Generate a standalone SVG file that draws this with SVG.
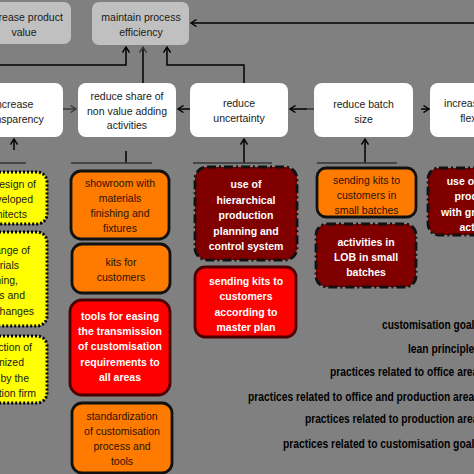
<svg xmlns="http://www.w3.org/2000/svg" width="474" height="474" viewBox="0 0 474 474">
<defs>
<marker id="ah" markerWidth="8" markerHeight="8" refX="6" refY="4" orient="auto" markerUnits="userSpaceOnUse">
<path d="M0.5,0.5 L6,4 L0.5,7.5" fill="none" stroke="#000" stroke-width="1.4"/>
</marker>
<marker id="ahg" markerWidth="8" markerHeight="8" refX="6" refY="4" orient="auto" markerUnits="userSpaceOnUse">
<path d="M0.5,0.5 L6,4 L0.5,7.5" fill="none" stroke="#3a3a3a" stroke-width="1.4"/>
</marker>
<style>
text{font-family:"Liberation Sans",Arial,sans-serif;font-size:10.5px;text-anchor:middle}
.goal rect{fill:#c0c0c0}
.lean rect{fill:#fff}
.gt{fill:#1a1a1a}
.off rect{fill:#ffff00;stroke:#000;stroke-width:3;stroke-dasharray:2 2}
.off text{fill:#1a1a1a;text-anchor:end}
.prod rect{fill:#ff7b00;stroke:#111;stroke-width:2.8}
.prod text{fill:#2a1200}
.cust rect{fill:#f00;stroke:#4a0000;stroke-width:2.8}
.both rect{fill:#800000;stroke:#111;stroke-width:2.8;stroke-dasharray:9 3 2 3}
.cust text,.both text{fill:#fff;font-weight:bold}
.c{fill:none;stroke:#000;stroke-width:1.5}
.cg{fill:none;stroke:#3a3a3a;stroke-width:1.5}
.br{fill:none;stroke:#333;stroke-width:1.6}
.leg text{font-weight:bold;font-size:12px;text-anchor:start;fill:#000}
</style>
</defs>
<rect width="474" height="474" fill="#808080"/>

<g id="connectors">
<path class="c" d="M474,23 H191" marker-end="url(#ah)"/>
<path class="c" d="M0,65 H126 V47" marker-end="url(#ah)"/>
<path class="c" d="M143,83 V47" marker-end="url(#ahg)"/>
<path class="c" d="M244,83 V65 H167 V47" marker-end="url(#ah)"/>
<path class="cg" d="M63,109 H76" marker-end="url(#ahg)"/>
<path class="c" d="M190,109 H178" marker-end="url(#ah)"/>
<path class="cg" d="M314,109 H307"/>
<path class="c" d="M307,109 H290" marker-end="url(#ah)"/>
<path class="c" d="M421,109 H429" marker-end="url(#ah)"/>
<path class="c" d="M14,150 V139" marker-end="url(#ah)"/>
<path class="c" d="M126,151 V163"/>
<path class="c" d="M244,163 V139" marker-end="url(#ah)"/>
<path class="c" d="M365,163 V139" marker-end="url(#ah)"/>
<path class="br" d="M0,163 H26 M71,163 H152 M193,163 H272 M317,163 H397"/>
</g>

<g id="increase-product-value" class="goal"><rect x="-30" y="2" width="101" height="42" rx="7"/><text class="gt"><tspan x="24" y="21">increase product</tspan><tspan x="24" y="36">value</tspan></text></g>
<g id="maintain-process-efficiency" class="goal"><rect x="92" y="2" width="97" height="43" rx="7"/><text class="gt"><tspan x="141" y="21">maintain process</tspan><tspan x="141" y="36">efficiency</tspan></text></g>

<g id="increase-transparency" class="lean"><rect x="-36" y="83" width="99" height="54" rx="8"/><text class="gt"><tspan x="13.5" y="108">increase</tspan><tspan x="13.5" y="123">transparency</tspan></text></g>
<g id="reduce-share" class="lean"><rect x="78" y="83" width="98" height="54" rx="8"/><text class="gt"><tspan x="127" y="100">reduce share of</tspan><tspan x="127" y="114.5">non value adding</tspan><tspan x="127" y="129">activities</tspan></text></g>
<g id="reduce-uncertainty" class="lean"><rect x="190" y="83" width="98" height="54" rx="8"/><text class="gt"><tspan x="239" y="107">reduce</tspan><tspan x="239" y="122">uncertainty</tspan></text></g>
<g id="reduce-batch-size" class="lean"><rect x="314" y="83" width="99" height="54" rx="8"/><text class="gt"><tspan x="363.5" y="107.5">reduce batch</tspan><tspan x="363.5" y="122.5">size</tspan></text></g>
<g id="increase-flexibility" class="lean"><rect x="430" y="83" width="100" height="54" rx="8"/><text class="gt"><tspan x="480" y="107">increase output</tspan><tspan x="480" y="122">flexibility</tspan></text></g>

<g id="design-architects" class="off"><rect x="-55" y="172" width="102" height="52" rx="10"/><text><tspan x="36" y="188">design of</tspan><tspan x="33" y="203">developed</tspan><tspan x="27" y="218">architects</tspan></text></g>
<g id="range-materials" class="off"><rect x="-55" y="232" width="102" height="94" rx="10"/><text><tspan x="30" y="254">range of</tspan><tspan x="19" y="269">materials</tspan><tspan x="18" y="284">finishing,</tspan><tspan x="25" y="299">fixtures and</tspan><tspan x="34" y="315">changes</tspan></text></g>
<g id="production-customized" class="off"><rect x="-55" y="336" width="102" height="67" rx="10"/><text><tspan x="32" y="351">production of</tspan><tspan x="24" y="366">customized</tspan><tspan x="29" y="382">by the</tspan><tspan x="36" y="397">construction firm</tspan></text></g>

<g id="showroom" class="prod"><rect x="71" y="171" width="98" height="68" rx="10"/><text><tspan x="120" y="187">showroom with</tspan><tspan x="120" y="202">materials</tspan><tspan x="120" y="217">finishing and</tspan><tspan x="120" y="232">fixtures</tspan></text></g>
<g id="kits-for-customers" class="prod"><rect x="72" y="244" width="98" height="49" rx="10"/><text><tspan x="121" y="266">kits for</tspan><tspan x="121" y="281">customers</tspan></text></g>
<g id="tools-transmission" class="cust"><rect x="70" y="300" width="100" height="95" rx="12"/><text><tspan x="120" y="320">tools for easing</tspan><tspan x="120" y="335">the transmission</tspan><tspan x="120" y="350">of customisation</tspan><tspan x="120" y="366">requirements to</tspan><tspan x="120" y="381">all areas</tspan></text></g>
<g id="standardization" class="prod"><rect x="72" y="403" width="100" height="70" rx="10"/><text><tspan x="122" y="420">standardization</tspan><tspan x="122" y="434.5">of customisation</tspan><tspan x="122" y="449.5">process and</tspan><tspan x="122" y="465">tools</tspan></text></g>

<g id="hierarchical-planning" class="both"><rect x="195" y="167" width="102" height="93" rx="12"/><text><tspan x="246" y="188">use of</tspan><tspan x="246" y="203.5">hierarchical</tspan><tspan x="246" y="219">production</tspan><tspan x="246" y="234.5">planning and</tspan><tspan x="246" y="250">control system</tspan></text></g>
<g id="kits-master-plan" class="cust"><rect x="195" y="267" width="101" height="70" rx="10"/><text><tspan x="246" y="285">sending kits to</tspan><tspan x="246" y="300">customers</tspan><tspan x="246" y="316">according to</tspan><tspan x="246" y="331">master plan</tspan></text></g>

<g id="kits-small-batches" class="prod"><rect x="317" y="168" width="99" height="49" rx="9"/><text><tspan x="366.5" y="184">sending kits to</tspan><tspan x="366.5" y="199">customers in</tspan><tspan x="366.5" y="214">small batches</tspan></text></g>
<g id="lob-small-batches" class="both"><rect x="316" y="224" width="100" height="63" rx="11"/><text><tspan x="366" y="246">activities in</tspan><tspan x="366" y="261">LOB in small</tspan><tspan x="366" y="276">batches</tspan></text></g>

<g id="cellular-production" class="both"><rect x="428" y="168" width="104" height="67" rx="11"/><text><tspan x="482" y="185">use of cellular</tspan><tspan x="482" y="200">production</tspan><tspan x="482" y="216">with grouping of</tspan><tspan x="482" y="231">activities</tspan></text></g>

<g id="legend" class="leg">
<text x="382" y="329" textLength="98" lengthAdjust="spacingAndGlyphs">customisation goals</text>
<text x="408" y="353" textLength="72" lengthAdjust="spacingAndGlyphs">lean principles</text>
<text x="330" y="376" textLength="154" lengthAdjust="spacingAndGlyphs">practices related to office areas</text>
<text x="248" y="401" textLength="232" lengthAdjust="spacingAndGlyphs">practices related to office and production areas</text>
<text x="305" y="423" textLength="179" lengthAdjust="spacingAndGlyphs">practices related to production areas</text>
<text x="283" y="448" textLength="197" lengthAdjust="spacingAndGlyphs">practices related to customisation goals</text>
</g>
</svg>
